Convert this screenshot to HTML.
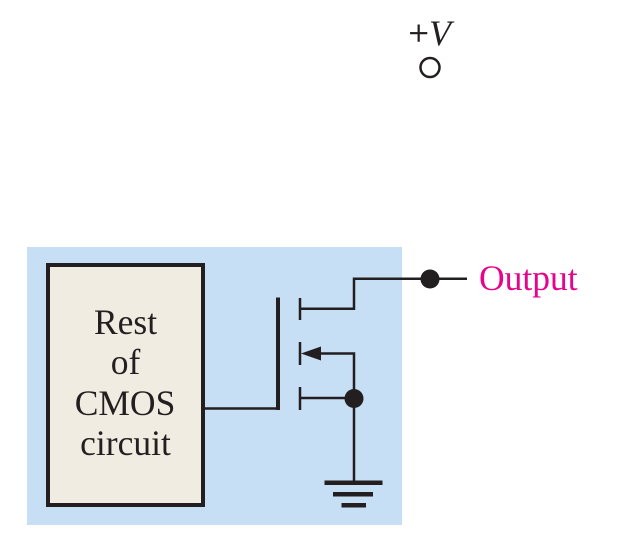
<!DOCTYPE html>
<html>
<head>
<meta charset="utf-8">
<style>
html,body{margin:0;padding:0;background:#fff;width:636px;height:533px;overflow:hidden}
svg{display:block;filter:blur(.35px)}
text{font-family:"Liberation Serif",serif;fill:#231f20}
</style>
</head>
<body>
<svg width="636" height="533" viewBox="0 0 636 533" xmlns="http://www.w3.org/2000/svg">
<rect x="27" y="247" width="375" height="278" fill="#c6dff5"/>
<rect x="48" y="265" width="155" height="240" fill="#f0ece2" stroke="#231f20" stroke-width="4"/>
<g font-size="35.500" text-anchor="middle">
<text x="125.500" y="334">Rest</text>
<text x="125.500" y="374">of</text>
<text x="125" y="415">CMOS</text>
<text x="125.500" y="455">circuit</text>
</g>
<g fill="none" stroke="#231f20">
<path d="M205 408.500H278" stroke-width="2.500"/>
<path d="M278 297.500V410" stroke-width="4"/>
<path d="M300 298V320M300 342V365M300 387V410" stroke-width="2.500"/>
<path d="M300 308.700H354V278.700H467" stroke-width="2.500"/>
<path d="M318 353.500H354V482" stroke-width="2.500"/>
<path d="M300 398H354" stroke-width="2.500"/>
</g>
<path d="M301 353.500L321 346.500V360.500Z" fill="#231f20"/>
<circle cx="430" cy="279" r="9.500" fill="#231f20"/>
<circle cx="354" cy="398.500" r="9.500" fill="#231f20"/>
<rect x="324.500" y="480.500" width="58" height="4.500" fill="#231f20"/>
<rect x="333" y="492" width="40" height="4.500" fill="#231f20"/>
<rect x="341.500" y="503" width="24.500" height="4.500" fill="#231f20"/>
<circle cx="430" cy="67.500" r="9.500" fill="none" stroke="#231f20" stroke-width="2.500"/>
<text x="408.500" y="45" font-size="36" stroke="#231f20" stroke-width=".4">+</text>
<text x="429" y="45" font-size="36" font-style="italic">V</text>
<text x="479" y="290" font-size="35.500" style="fill:#e5058c">Output</text>
</svg>
</body>
</html>
